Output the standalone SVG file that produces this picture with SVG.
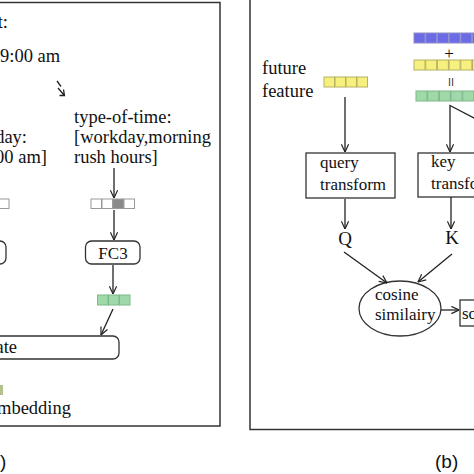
<svg xmlns="http://www.w3.org/2000/svg" width="474" height="474" viewBox="0 0 474 474">
<style>
  .t { font-family: "Liberation Serif", "Times New Roman", serif; fill: #111; }
  .lbl { font-size: 18.5px; }
  .in { font-size: 17px; }
  .big { font-size: 19px; }
  .cap { font-family: "Liberation Sans", Arial, sans-serif; font-size: 19px; fill: #111; }
  .panel { fill: none; stroke: #333; stroke-width: 1.5; }
  .box { fill: #fff; stroke: #333; stroke-width: 1.3; }
  .ln { fill: none; stroke: #222; stroke-width: 1.3; }
  .gry { fill: #fff; stroke: #9a9a9a; stroke-width: 1; }
  .gdk { fill: #8a8a8a; stroke: #9a9a9a; stroke-width: 1; }
  .grn { fill: #9fd9a9; stroke: #7db888; stroke-width: 1; }
  .yel { fill: #f6f07e; stroke: #b8b060; stroke-width: 1; }
  .blu { fill: #6b6be6; stroke: #8e8ec8; stroke-width: 1; }
  .olv { fill: #b3c28a; stroke: none; }
</style>
<defs>
  <marker id="ah" viewBox="0 0 10 10" refX="9.5" refY="5" markerWidth="9" markerHeight="9" orient="auto" markerUnits="userSpaceOnUse">
    <path d="M1,1 L9.5,5 L1,9" fill="none" stroke="#222" stroke-width="1.3"/>
  </marker>
</defs>
<rect width="474" height="474" fill="#fff"/>

<!-- panel frames -->
<g id="panel-a">
  <rect class="panel" x="-10" y="2.5" width="230" height="423.5"/>
</g>
<g id="panel-b">
  <rect class="panel" x="250" y="-10" width="240" height="439.5"/>
</g>

<!-- left panel nodes -->
<g id="timestamp">
  <text class="t lbl" x="8" y="28" text-anchor="end">t:</text>
  <text class="t lbl" x="0" y="62">9:00 am</text>
</g>
<g id="type-of-day">
  <text class="t lbl" x="27" y="143" text-anchor="end">day:</text>
  <text class="t lbl" x="47" y="163" text-anchor="end">00 am]</text>
</g>
<g id="type-of-time">
  <text class="t lbl" x="74" y="123">type-of-time:</text>
  <text class="t lbl" x="74" y="143">[workday,morning</text>
  <text class="t lbl" x="74" y="163">rush hours]</text>
</g>
<g id="onehot-left">
  <rect class="gry" x="-1.5" y="199" width="10.5" height="9.5"/>
</g>
<g id="onehot-time">
  <rect class="gry" x="91" y="199" width="10.5" height="9.5"/>
  <rect class="gry" x="102" y="199" width="10.5" height="9.5"/>
  <rect class="gdk" x="113" y="199" width="10.5" height="9.5"/>
  <rect class="gry" x="124" y="199" width="10.5" height="9.5"/>
</g>
<g id="fc-left">
  <rect class="box" x="-60" y="241" width="66" height="23" rx="6"/>
</g>
<g id="fc3">
  <rect class="box" x="85.5" y="241" width="54.5" height="23" rx="6"/>
  <text class="t in" x="113" y="259" text-anchor="middle">FC3</text>
</g>
<g id="emb-time">
  <rect class="grn" x="97.5" y="295" width="10.5" height="10"/>
  <rect class="grn" x="108.5" y="295" width="10.5" height="10"/>
  <rect class="grn" x="119.5" y="295" width="10.5" height="10"/>
</g>
<g id="concatenate">
  <rect class="box" x="-200" y="336" width="319" height="23" rx="6"/>
  <text class="t lbl" x="17" y="353" text-anchor="end">ate</text>
</g>
<g id="embedding">
  <rect class="olv" x="-1" y="385" width="4" height="10"/>
  <text class="t lbl" x="71" y="414" text-anchor="end">mbedding</text>
</g>
<g id="caption-a">
  <text class="cap" x="0" y="468">)</text>
</g>

<!-- right panel nodes -->
<g id="future-feature">
  <text class="t lbl" x="262" y="74">future</text>
  <text class="t lbl" x="262" y="97">feature</text>
  <rect class="yel" x="324" y="77" width="10.5" height="10"/>
  <rect class="yel" x="335" y="77" width="10.5" height="10"/>
  <rect class="yel" x="346" y="77" width="10.5" height="10"/>
  <rect class="yel" x="357" y="77" width="10.5" height="10"/>
</g>
<g id="sum-vectors">
  <rect class="blu" x="414" y="33" width="11" height="10"/>
  <rect class="blu" x="425.7" y="33" width="11" height="10"/>
  <rect class="blu" x="437.4" y="33" width="11" height="10"/>
  <rect class="blu" x="449.1" y="33" width="11" height="10"/>
  <rect class="blu" x="460.8" y="33" width="11" height="10"/>
  <rect class="blu" x="472.5" y="33" width="11" height="10"/>
  <text class="t in" x="449" y="58.5" text-anchor="middle">+</text>
  <rect class="yel" x="414" y="60" width="11" height="10"/>
  <rect class="yel" x="425.7" y="60" width="11" height="10"/>
  <rect class="yel" x="437.4" y="60" width="11" height="10"/>
  <rect class="yel" x="449.1" y="60" width="11" height="10"/>
  <rect class="yel" x="460.8" y="60" width="11" height="10"/>
  <rect class="yel" x="472.5" y="60" width="11" height="10"/>
  <text class="t in" transform="translate(449,82) rotate(90)" x="0" y="4.4" text-anchor="middle">=</text>
  <rect class="grn" x="416" y="91" width="11" height="10"/>
  <rect class="grn" x="427.7" y="91" width="11" height="10"/>
  <rect class="grn" x="439.4" y="91" width="11" height="10"/>
  <rect class="grn" x="451.1" y="91" width="11" height="10"/>
  <rect class="grn" x="462.8" y="91" width="11" height="10"/>
  <rect class="grn" x="474.5" y="91" width="11" height="10"/>
</g>
<g id="query-transform">
  <rect class="box" x="306" y="153" width="89" height="45"/>
  <text class="t in" x="320" y="168">query</text>
  <text class="t in" x="320" y="190">transform</text>
</g>
<g id="key-transform">
  <rect class="box" x="418" y="153" width="80" height="44"/>
  <text class="t in" x="431" y="167">key</text>
  <text class="t in" x="431" y="189">transform</text>
</g>
<g id="q">
  <text class="t big" x="345" y="245" text-anchor="middle">Q</text>
</g>
<g id="k">
  <text class="t big" x="452" y="244" text-anchor="middle">K</text>
</g>
<g id="cosine-similarity">
  <ellipse class="box" cx="400" cy="308.5" rx="41" ry="27.5"/>
  <text class="t in" x="375" y="300">cosine</text>
  <text class="t in" x="375" y="320">similairy</text>
</g>
<g id="softmax">
  <rect class="box" x="460" y="300" width="40" height="26"/>
  <text class="t in" x="462" y="319">so</text>
</g>
<g id="caption-b">
  <text class="cap" x="435" y="468">(b)</text>
</g>

<!-- connectors -->
<g id="connectors">
  <path class="ln" d="M57,81 L61,86.5" />
  <path class="ln" d="M58,88 L64,95 M59.5,95.5 L64.5,95.5 L63.5,89.5"/>
  <line class="ln" x1="114" y1="168" x2="114" y2="198" marker-end="url(#ah)"/>
  <line class="ln" x1="114" y1="210" x2="114" y2="240" marker-end="url(#ah)"/>
  <line class="ln" x1="113" y1="265" x2="113" y2="294" marker-end="url(#ah)"/>
  <line class="ln" x1="113" y1="309" x2="101" y2="335" marker-end="url(#ah)"/>
  <line class="ln" x1="345" y1="97" x2="345" y2="152" marker-end="url(#ah)"/>
  <polyline class="ln" points="478,120 450,105.5 450,152" marker-end="url(#ah)"/>
  <line class="ln" x1="345" y1="199" x2="345" y2="229" marker-end="url(#ah)"/>
  <line class="ln" x1="451" y1="197" x2="451" y2="229" marker-end="url(#ah)"/>
  <line class="ln" x1="344" y1="252" x2="387" y2="283" marker-end="url(#ah)"/>
  <line class="ln" x1="452" y1="254" x2="418" y2="282" marker-end="url(#ah)"/>
  <line class="ln" x1="441" y1="310" x2="459" y2="310" marker-end="url(#ah)"/>
</g>
</svg>
